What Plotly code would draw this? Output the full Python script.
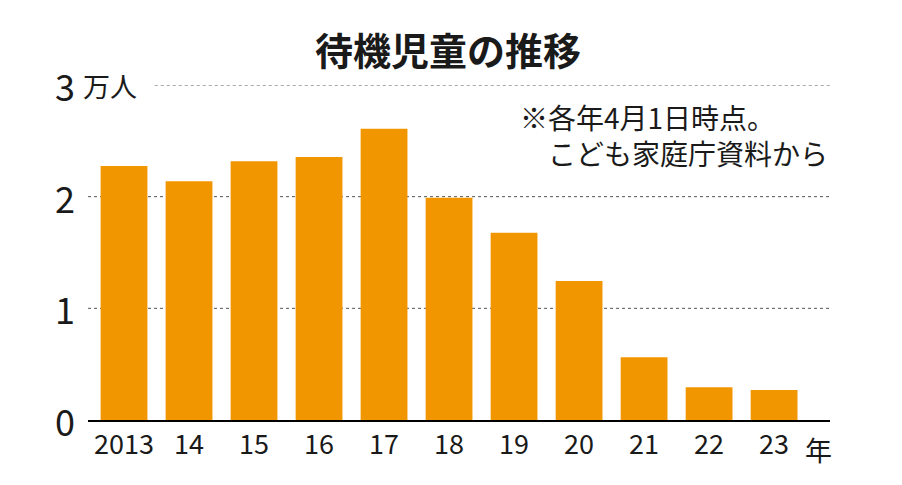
import plotly.graph_objects as go

years = ["2013", "14", "15", "16", "17", "18", "19", "20", "21", "22", "23"]
values = [2.274, 2.137, 2.317, 2.355, 2.608, 1.990, 1.677, 1.244, 0.563, 0.294, 0.268]
yticks = [0, 1, 2]

FONT = "Noto Sans CJK JP"
fig = go.Figure(go.Bar(x=list(range(len(years))), y=values, marker_color="#F29600",
                       marker_line_width=0, width=0.72))
fig.update_layout(
    width=902, height=485, paper_bgcolor="white", plot_bgcolor="white",
    margin=dict(l=80, r=80, t=77, b=73), showlegend=False,
    font=dict(family=FONT, color="#1a1a1a"),
    xaxis=dict(range=[-0.554, 10.86], tickvals=list(range(len(years))), ticktext=years,
               tickfont=dict(size=27, family=FONT), showgrid=False, zeroline=False,
               showline=True, linecolor="black", linewidth=2, ticks=""),
    yaxis=dict(range=[0, 3], tickvals=yticks, showticklabels=False, showgrid=False,
               zeroline=False, fixedrange=True),
)
for v in [1, 2, 3]:
    fig.add_shape(type="line", xref="paper", yref="y", x0=0.09 if v == 3 else 0, x1=1,
                  y0=v, y1=v, line=dict(color="#555", width=1, dash="dot"), layer="below")
for v in yticks:
    fig.add_annotation(xref="paper", yref="y", x=-0.015, y=v, text=str(v), showarrow=False,
                       xanchor="right", font=dict(size=36, family=FONT))
fig.add_annotation(xref="paper", yref="y", x=-0.015, y=3, text="3", showarrow=False,
                   xanchor="right", font=dict(size=36, family=FONT))
fig.add_annotation(xref="paper", yref="y", x=-0.01, y=3, text="万人", showarrow=False,
                   xanchor="left", font=dict(size=27, family=FONT))
fig.add_annotation(xref="x", yref="y", x=10.45, y=0, yshift=-8, text="年", showarrow=False,
                   xanchor="left", yanchor="top", font=dict(size=27, family=FONT))
fig.add_annotation(xref="paper", yref="paper", x=0.485, y=1.0, yshift=37, text="<b>待機児童の推移</b>",
                   showarrow=False, xanchor="center", yanchor="middle",
                   font=dict(size=38, family=FONT))
fig.add_annotation(xref="paper", yref="paper", x=1.0, y=0.97, text="※各年4月1日時点。<br>　こども家庭庁資料から",
                   showarrow=False, xanchor="right", yanchor="top", align="left",
                   bgcolor="white", font=dict(size=28, family=FONT))
fig.write_html("out.html")
